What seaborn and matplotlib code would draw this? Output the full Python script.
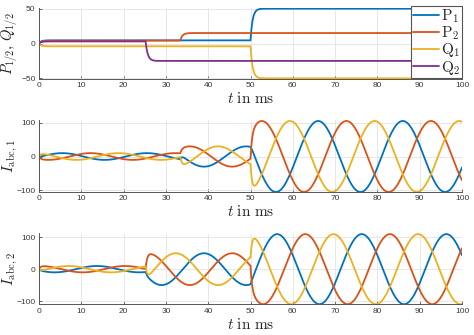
import numpy as np
import pandas as pd
import matplotlib
matplotlib.use("Agg")
import matplotlib.pyplot as plt
import seaborn as sns

# ---------------- data ----------------
PERIOD_MS = 20.0          # 50 Hz grid
T_END = 100.0

# Active / reactive power: switching instants (ms) and levels reached
power_names = [r"$\mathrm{P}_1$", r"$\mathrm{P}_2$", r"$\mathrm{Q}_1$", r"$\mathrm{Q}_2$"]
p1_times, p1_levels = [0.0, 50.0], [4.5, 50.0]
p2_times, p2_levels = [0.0, 33.4], [4.0, 15.0]
q1_times, q1_levels = [0.0, 50.0], [-4.0, -50.0]
q2_times, q2_levels = [0.0, 25.2], [3.0, -25.0]

# Three-phase currents: segment start (ms), peak amplitude, peak time of phase a (ms, mod 20)
i1_starts = [0.0, 33.4, 50.0]
i1_amps = [10.0, 30.0, 105.0]
i1_peaks = [5.5, 9.0, 6.0]

i2_starts = [0.0, 25.2, 50.0]
i2_amps = [10.0, 50.0, 110.0]
i2_peaks = [13.7, 19.0, 16.3]

phase_names = ["a", "b", "c"]
phase_shift_ms = [0.0, PERIOD_MS / 3, 2 * PERIOD_MS / 3]

# ---------------- signal helpers ----------------
t = np.linspace(0.0, T_END, 10001)
TAU = 0.35   # settling time constant after each switching event (ms)


def stepped(times, levels, tau=0.5):
    y = np.zeros_like(t)
    prev = 0.0
    for k, (ts, lv) in enumerate(zip(times, levels)):
        te = times[k + 1] if k + 1 < len(times) else T_END + 1
        m = (t >= ts) & (t < te)
        y[m] = lv + (prev - lv) * np.exp(-(t[m] - ts) / tau)
        prev = y[m][-1] if m.any() else lv
    return y


def three_phase(starts, amps, peaks, shift):
    y = np.zeros_like(t)
    prev = 0.0
    w = 2 * np.pi / PERIOD_MS
    for k, (ts, a, pk) in enumerate(zip(starts, amps, peaks)):
        te = starts[k + 1] if k + 1 < len(starts) else T_END + 1
        m = (t >= ts) & (t < te)
        new = a * np.cos(w * (t[m] - pk - shift))
        y[m] = new + (prev - new[0]) * np.exp(-(t[m] - ts) / TAU)
        prev = y[m][-1]
    return y


power_df = pd.concat([
    pd.DataFrame({"t": t, "v": stepped(tm, lv), "s": nm})
    for nm, tm, lv in zip(power_names,
                          [p1_times, p2_times, q1_times, q2_times],
                          [p1_levels, p2_levels, q1_levels, q2_levels])
])
i1_df = pd.concat([
    pd.DataFrame({"t": t, "v": three_phase(i1_starts, i1_amps, i1_peaks, sh), "s": ph})
    for ph, sh in zip(phase_names, phase_shift_ms)
])
i2_df = pd.concat([
    pd.DataFrame({"t": t, "v": three_phase(i2_starts, i2_amps, i2_peaks, sh), "s": ph})
    for ph, sh in zip(phase_names, phase_shift_ms)
])

# ---------------- styling ----------------
sns.set_theme(style="whitegrid")
plt.rcParams["mathtext.fontset"] = "cm"
plt.rcParams["font.family"] = ["Liberation Sans", "DejaVu Sans"]

colors4 = ["#0072BD", "#D95319", "#EDB120", "#7E2F8E"]
colors3 = colors4[:3]

fig = plt.figure(figsize=(4.74, 3.35), dpi=100)
fig.patch.set_facecolor("white")

L, W = 39 / 474, 423 / 474


def frac(top_px, bot_px):
    return [L, 1 - bot_px / 335, W, (bot_px - top_px) / 335]


ax1 = fig.add_axes(frac(8.3, 78.7))
ax2 = fig.add_axes(frac(120.3, 191.7))
ax3 = fig.add_axes(frac(233.5, 304.2))

sns.lineplot(data=power_df, x="t", y="v", hue="s", palette=colors4, ax=ax1,
             linewidth=1.3, estimator=None, sort=False)
sns.lineplot(data=i1_df, x="t", y="v", hue="s", palette=colors3, ax=ax2,
             linewidth=1.3, estimator=None, sort=False, legend=False)
sns.lineplot(data=i2_df, x="t", y="v", hue="s", palette=colors3, ax=ax3,
             linewidth=1.3, estimator=None, sort=False, legend=False)

ylabels = [r"$P_{1/2},\,Q_{1/2}$", r"$I_{\mathrm{abc},1}$", r"$I_{\mathrm{abc},2}$"]
ylabel_sizes = [10.5, 11, 11]
ylims = [(-50.5, 50.5), (-104, 107), (-110, 112)]
yticks = [[-50, 0, 50], [-100, 0, 100], [-100, 0, 100]]

for ax, yl, ys, lim, yt in zip([ax1, ax2, ax3], ylabels, ylabel_sizes, ylims, yticks):
    ax.set_facecolor("white")
    ax.set_xlim(0, 100)
    ax.set_ylim(*lim)
    ax.set_xticks(np.arange(0, 101, 10))
    ax.set_yticks(yt)
    ax.grid(True, color="#e3e3e3", linewidth=0.6)
    for s in ["top", "right"]:
        ax.spines[s].set_visible(False)
    for s in ["left", "bottom"]:
        ax.spines[s].set_visible(True)
        ax.spines[s].set_color("#555555")
        ax.spines[s].set_linewidth(0.7)
    ax.tick_params(axis="both", direction="in", length=2.5, width=0.6,
                   color="#555555", labelsize=6, labelcolor="#3a3a3a", pad=2.5)
    ax.tick_params(left=True, bottom=True)
    ax.set_xlabel(r"$t\ \mathrm{in\ ms}$", fontsize=11, labelpad=1.5)
    ax.set_ylabel(yl, fontsize=ys)
    ax.yaxis.set_label_coords(-0.045, 0.5)

leg = ax1.legend(loc="upper right", bbox_to_anchor=(1.0, 1.03), fontsize=11,
                 frameon=True, fancybox=False, handlelength=1.7,
                 handletextpad=0.15, labelspacing=-0.05, borderpad=0.1,
                 borderaxespad=0.0)
leg.get_frame().set_edgecolor("#555555")
leg.get_frame().set_linewidth(0.8)
leg.get_frame().set_facecolor("white")
leg.get_frame().set_alpha(1.0)
for h in leg.get_lines():
    h.set_linewidth(1.3)

fig.savefig("out.png", dpi=100, facecolor="white")
